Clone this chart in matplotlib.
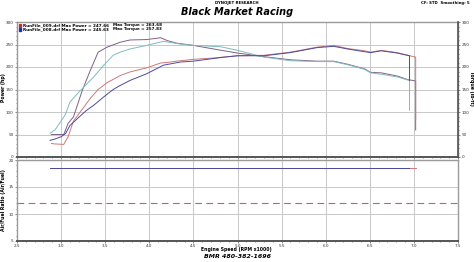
import numpy as np
import matplotlib.pyplot as plt
from matplotlib.ticker import MultipleLocator

# Run 009 (red marker)
rpm_009 = [2.89, 2.93, 3.03, 3.08, 3.14, 3.24, 3.33, 3.42, 3.52, 3.67, 3.78, 3.97,
           4.13, 4.20, 4.31, 4.50, 4.73, 5.00, 5.30, 5.60, 5.90, 6.09, 6.25, 6.44,
           6.51, 6.63, 6.81, 6.93, 7.02, 7.02]
power_009 = [30, 29, 28, 45, 80, 106, 130, 150, 165, 181, 189, 198,
             209, 210, 213, 217, 220, 225, 226, 233, 244, 248, 241, 236,
             233, 237, 232, 226, 222, 82]
torque_009 = [50, 50, 50, 75, 89, 148, 192, 233, 244, 255, 260, 261,
              265, 259, 253, 248, 240, 231, 223, 216, 213, 213, 206, 196,
              188, 187, 180, 172, 169, 60]

# Run 008 (blue marker)
rpm_008 = [2.875, 2.93, 3.00, 3.05, 3.10, 3.20, 3.29, 3.37, 3.48, 3.59, 3.67, 3.78,
           3.97, 4.16, 4.35, 4.50, 4.81, 5.00, 5.30, 5.60, 5.90, 6.09, 6.25, 6.44,
           6.51, 6.63, 6.81, 6.95, 6.95]
power_008 = [37, 40, 45, 52, 70, 88, 104, 115, 133, 150, 159, 170,
             185, 204, 211, 213, 221, 225, 225, 232, 243, 246, 240, 234,
             232, 236, 231, 225, 170]
torque_008 = [53, 60, 80, 95, 122, 144, 162, 178, 203, 226, 233, 240,
              248, 257, 251, 248, 245, 237, 222, 214, 212, 212, 205, 195,
              187, 184, 178, 170, 104]

# Air/fuel
afr_rpm_009 = [2.89, 7.02]
afr_009 = [18.5, 18.5]
afr_rpm_008 = [2.87, 6.95]
afr_008 = [18.5, 18.5]
afr_ref = 12.1

legend_lines = [
    ('RunFile_009.drf Max Power = 247.66', 'Max Torque = 263.68', '#c03030'),
    ('RunFile_008.drf Max Power = 245.63', 'Max Torque = 257.83', '#2030b0'),
]

c_pow9, c_tq9 = '#d07878', '#806088'
c_pow8, c_tq8 = '#4a4aa0', '#80bcbc'
grid_c = '#c8c8c8'
fs = 3.0

fig = plt.figure(figsize=(4.74, 2.62), dpi=100)
ax1 = fig.add_axes([17/474, 1-157/262, 441/474, 135/262])
ax2 = fig.add_axes([17/474, 1-241/262, 441/474, 81/262])

def style(ax):
    ax.set_xlim(2.5, 7.5)
    ax.xaxis.set_major_locator(MultipleLocator(0.5))
    ax.xaxis.set_minor_locator(MultipleLocator(0.1))
    ax.grid(True, which='major', color=grid_c, lw=0.7)
    ax.tick_params(which='both', labelsize=fs, length=1.5, width=0.4, pad=1.0,
                   direction='out', colors='#333333')
    ax.tick_params(which='minor', length=1)
    for s in ax.spines.values():
        s.set_color('#9a9a9a')
        s.set_linewidth(1.0)
    ax.spines['bottom'].set_color('#555555')
    ax.spines['bottom'].set_linewidth(1.4)

# Power / torque
style(ax1)
ax1.set_ylim(0, 300)
ax1.yaxis.set_major_locator(MultipleLocator(50))
ax1.yaxis.set_minor_locator(MultipleLocator(10))
ax1.tick_params(axis='x', labelbottom=False)
ax1.plot(rpm_009, torque_009, color=c_tq9, lw=0.7)
ax1.plot(rpm_008, torque_008, color=c_tq8, lw=0.7)
ax1.plot(rpm_009, power_009, color=c_pow9, lw=0.7)
ax1.plot(rpm_008, power_008, color=c_pow8, lw=0.7)
ax1r = ax1.twinx()
ax1r.set_ylim(0, 300)
ax1r.yaxis.set_major_locator(MultipleLocator(50))
ax1r.yaxis.set_minor_locator(MultipleLocator(10))
ax1r.tick_params(which='both', labelsize=fs, length=1.5, width=0.4, pad=1.0, colors='#333333')
ax1r.tick_params(which='minor', length=1)
ax1r.spines['right'].set_color('#555555')
ax1r.spines['right'].set_linewidth(1.2)
for s in ['left', 'top', 'bottom']:
    ax1r.spines[s].set_visible(False)

# legend text
for i, (left, right, col) in enumerate(legend_lines):
    y = 0.985 - i * 0.03
    ax1.add_patch(plt.Rectangle((0.004, y - 0.022), 0.006, 0.024, transform=ax1.transAxes,
                                color=col, clip_on=False))
    ax1.text(0.013, y - 0.01, left, transform=ax1.transAxes, fontsize=fs,
             fontweight='bold', va='center', ha='left')
    ax1.text(0.218, y - 0.01, right, transform=ax1.transAxes, fontsize=fs,
             fontweight='bold', va='center', ha='left')

# Air / fuel
style(ax2)
ax2.set_ylim(5, 20)
ax2.yaxis.set_major_locator(MultipleLocator(5))
ax2.yaxis.set_minor_locator(MultipleLocator(1))
ax2.tick_params(axis='x', pad=0.6)
ax2.grid(True, axis='y', color=grid_c, lw=0.7)
ax2.axhline(afr_ref, color='#c86060', lw=0.8, dashes=(6, 4))
ax2.plot(afr_rpm_009, afr_009, color=c_pow9, lw=0.7)
ax2.plot(afr_rpm_008, afr_008, color=c_pow8, lw=0.7)

# axis titles
fig.text(3.2/474, 1 - 88/262, 'Power (hp)', fontsize=fs + 0.3, fontweight='bold',
         rotation=90, ha='center', va='center')
fig.text(471.5/474, 1 - 88/262, 'Torque (lb-ft)', fontsize=fs + 0.3, fontweight='bold',
         rotation=270, ha='center', va='center')
fig.text(3.2/474, 1 - 200/262, 'Air/Fuel Ratio (Air/Fuel)', fontsize=fs + 0.3,
         fontweight='bold', rotation=90, ha='center', va='center')
fig.text(236/474, 1 - 250/262, 'Engine Speed (RPM x1000)', fontsize=fs + 0.3,
         fontweight='bold', ha='center', va='center')

# header / footer
fig.text(0.5, 1 - 3/262, 'DYNOJET RESEARCH', fontsize=2.8, fontweight='bold',
         ha='center', va='center')
fig.text(0.5, 1 - 12/262, 'Black Market Racing', fontsize=7, fontweight='bold',
         style='italic', ha='center', va='center')
fig.text(0.99, 1 - 3/262, 'CF: STD  Smoothing: 5', fontsize=2.8, fontweight='bold',
         ha='right', va='center')
fig.text(0.5, 1 - 257/262, 'BMR 480-382-1696', fontsize=4.5, fontweight='bold',
         style='italic', ha='center', va='center')

fig.savefig('out.png', dpi=100)
